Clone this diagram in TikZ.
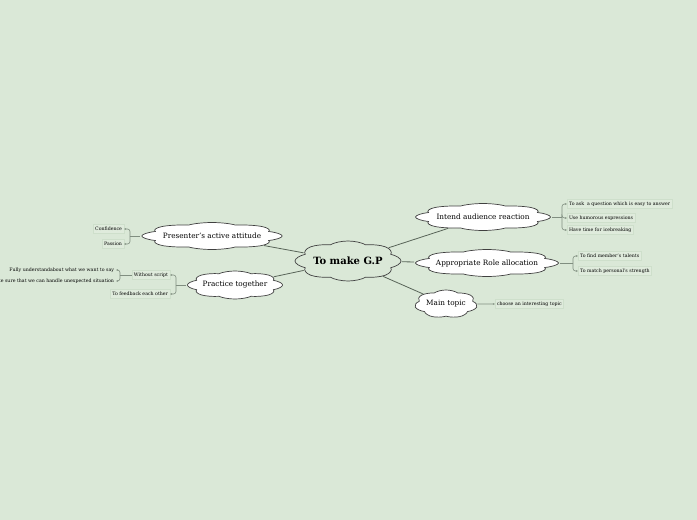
\documentclass[tikz,border=0pt]{standalone}
\usepackage{fontspec}
\setmainfont{DejaVu Serif}
\usetikzlibrary{shapes.symbols,arrows.meta}
\definecolor{bggreen}{RGB}{218,232,215}
\definecolor{leaffill}{RGB}{223,235,220}
\definecolor{leafline}{RGB}{206,223,203}
\definecolor{branch}{RGB}{88,100,88}
\definecolor{twig}{RGB}{128,142,128}

\begin{document}
\begin{tikzpicture}[x=1pt, y=-1pt,
topic/.style={cloud, cloud puffs=8, cloud puff arc=120, aspect=1, transform shape, draw=black!75, fill=white, line width=0.7pt, inner sep=0pt, minimum size=27pt},
toptext/.style={inner sep=0pt, font=\fontsize{7.3}{8.5}\selectfont},
leaf/.style={rectangle, draw=leafline, fill=leaffill, inner sep=1.8pt, minimum height=9pt, font=\fontsize{4.7}{5.5}\selectfont},
branch/.style={draw=branch, line width=0.8pt},
twig/.style={draw=twig, line width=0.6pt, rounded corners=2.5pt},
tip/.style={-{Stealth[length=2.2pt,width=1.8pt]}}
]
\useasboundingbox (0,0) rectangle (697,520);
\fill[bggreen] (0,0) rectangle (697,520);
\clip (0,0) rectangle (697,520);
%Positions
\coordinate (pCenter)    at (348,261);
\coordinate (pIntend)    at (483,217);
\coordinate (pRole)      at (487,263);
\coordinate (pMain)      at (446,304);
\coordinate (pPres)      at (212,236);
\coordinate (pPrac)      at (235,285);
%Clouds
\node[topic, fill=bggreen, minimum size=40pt, xscale=2.65] (center) at (pCenter) {};
\node[topic, xscale=5.0]              (intend)    at (pIntend) {};
\node[topic, xscale=5.3]              (role)      at (pRole)   {};
\node[topic, minimum size=28pt, xscale=2.25, cloud puffs=7] (maintopic) at (pMain) {};
\node[topic, xscale=5.2]              (presenter) at (pPres)   {};
\node[topic, minimum size=28pt, xscale=3.4] (practice) at (pPrac) {};
\node[toptext, font=\bfseries\fontsize{10}{12}\selectfont] (centertxt) at (pCenter) {To make G.P};
\node[toptext] (intendtxt)    at (pIntend) {Intend audience reaction};
\node[toptext] (roletxt)      at (pRole)   {Appropriate Role allocation};
\node[toptext] (maintopictxt) at (pMain)   {Main topic};
\node[toptext] (presentertxt) at (pPres)   {Presenter's active attitude};
\node[toptext] (practicetxt)  at (pPrac)   {Practice together};
%Leaves
\node[leaf, anchor=west] (ask)       at (567,204) {To ask\ \ a question which is easy to answer};
\node[leaf, anchor=west] (humor)     at (567,218) {Use humorous expressions};
\node[leaf, anchor=west] (ice)       at (567,230) {Have time for icebreaking};
\node[leaf, anchor=west] (talents)   at (578,256) {To find member's talents};
\node[leaf, anchor=west] (strength)  at (578,271) {To match personal's strength};
\node[leaf, anchor=west] (choose)    at (495,304) {choose an interesting topic};
\node[leaf, anchor=east] (confidence) at (124,229) {Confidence};
\node[leaf, anchor=east] (passion)   at (124,244) {Passion};
\node[leaf, anchor=east] (noscript)  at (170,275) {Without script};
\node[leaf, anchor=east] (feedback)  at (170,294) {To feedback each other};
\node[leaf, anchor=east, draw=none, fill=none] (fully)    at (116,270) {Fully understandabout what we want to say};
\node[leaf, anchor=east, draw=none, fill=none] (makesure) at (116,281) {Make sure that we can handle unexpected situation};

\coordinate (jIntend)  at (562,217);
\coordinate (jRole)    at (573,263);
\coordinate (jPres)    at (130,236);
\coordinate (jPrac)    at (176,285);
\coordinate (jScript)  at (120,275);
%Lines
\foreach \n in {intend,role,maintopic,presenter,practice}
  \draw[branch] (center) -- (\n);

\draw[twig] (intend.east) -- (jIntend);
\foreach \n in {ask,humor,ice}
  \draw[twig,tip] (jIntend) |- (\n.west);
\draw[twig] (role.east) -- (jRole);
\foreach \n in {talents,strength}
  \draw[twig,tip] (jRole) |- (\n.west);
\draw[twig,tip] (maintopic.east) -- (choose.west);
\draw[twig] (presenter.west) -- (jPres);
\foreach \n in {confidence,passion}
  \draw[twig,tip] (jPres) |- (\n.east);
\draw[twig, line width=1pt] (practice.west) -- (jPrac);
\foreach \n in {noscript,feedback}
  \draw[twig,tip] (jPrac) |- (\n.east);
\draw[twig] (noscript.west) -- (jScript);
\foreach \n in {fully,makesure}
  \draw[twig,tip] (jScript) |- (\n.east);
\end{tikzpicture}
\end{document}
